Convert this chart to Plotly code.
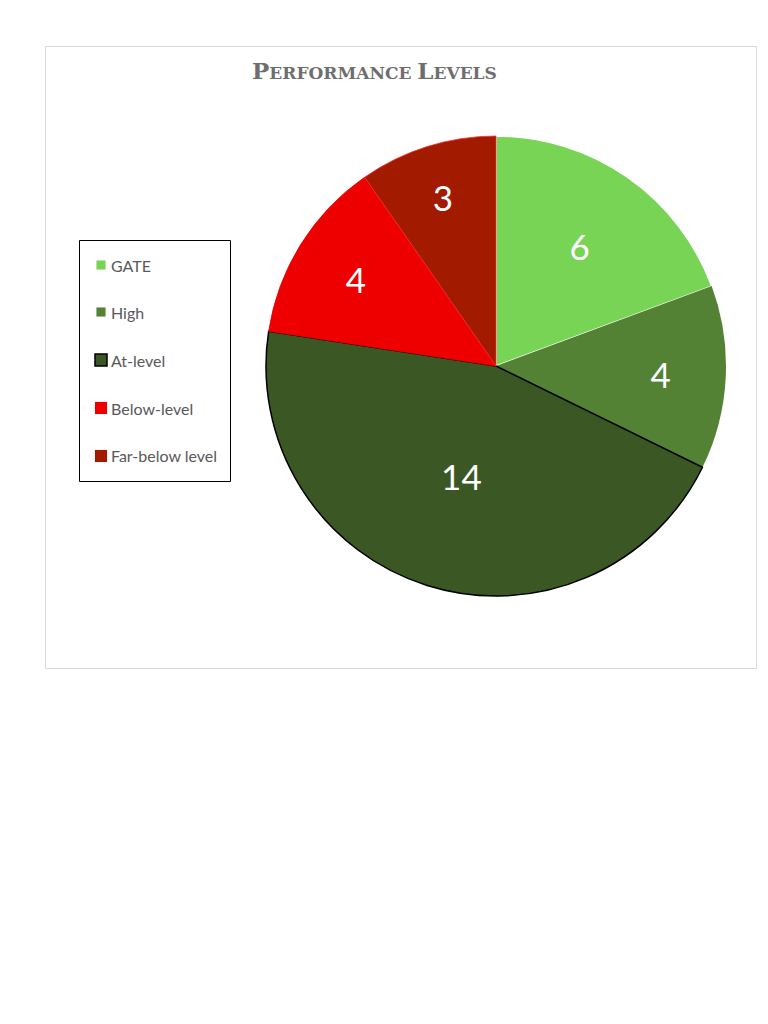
import plotly.graph_objects as go

labels = ["GATE", "High", "At-level", "Below-level", "Far-below level"]
values = [6, 4, 14, 4, 3]
colors = ["#77D455", "#548235", "#3A5724", "#EE0000", "#A21A00"]
border_colors = ["#FFFFFF", "#548235", "#000000", "#EE0000", "#FF2A2A"]
border_widths = [1.5, 0, 1.5, 0.8, 0.8]
title_text = "PERFORMANCE LEVELS"

OFF = 8  # page body margin
W, H = 752, 1000

def px(x):
    return (x - OFF) / W

def py(y):
    return 1 - (y - OFF) / H

cx, cy, r = 496, 366, 230

fig = go.Figure()
fig.add_trace(go.Pie(
    labels=labels,
    values=values,
    sort=False,
    direction="clockwise",
    rotation=0,
    marker=dict(colors=colors, line=dict(color=border_colors, width=border_widths)),
    textinfo="value",
    textposition="inside",
    insidetextorientation="horizontal",
    textfont=dict(family="Lato, Open Sans, sans-serif", size=35, color="white"),
    domain=dict(x=[px(cx - r), px(cx + r)], y=[py(cy + r), py(cy - r)]),
    showlegend=False,
    hoverinfo="label+value",
))

shapes = [
    dict(type="rect", xref="paper", yref="paper",
         x0=px(45.5), x1=px(756.5), y0=py(668.5), y1=py(46.5),
         line=dict(color="#D9D9D9", width=1), layer="below"),
    dict(type="rect", xref="paper", yref="paper",
         x0=px(79.5), x1=px(230.5), y0=py(481.5), y1=py(240.5),
         line=dict(color="#000000", width=1)),
]

annotations = []
legend_y = [265, 312, 360, 408, 456]
marker_size = [9, 9, 12, 12, 12]
marker_line = [0, 0, 1.5, 0, 0]
for lab, col, yy, ms, ml in zip(labels, colors, legend_y, marker_size, marker_line):
    mx = 101
    shapes.append(dict(type="rect", xref="paper", yref="paper",
                       x0=px(mx - ms / 2), x1=px(mx + ms / 2),
                       y0=py(yy + ms / 2), y1=py(yy - ms / 2),
                       fillcolor=col,
                       line=dict(color="#000000" if ml else col, width=ml if ml else 0.1)))
    annotations.append(dict(xref="paper", yref="paper", x=px(109), y=py(yy),
                            xanchor="left", yanchor="middle", showarrow=False,
                            text=lab,
                            font=dict(family="Lato, Open Sans, sans-serif", size=16, color="#595959")))

words = title_text.split(" ")
parts = []
for w in words:
    parts.append("<span style='font-size:23px'>" + w[0] + "</span>" + w[1:])
title_html = "<b>" + " ".join(parts) + "</b>"
annotations.append(dict(xref="paper", yref="paper", x=px(374), y=py(71),
                        xanchor="center", yanchor="middle", showarrow=False,
                        text=title_html,
                        font=dict(family="DejaVu Serif, serif", size=17, color="#6E6E6E")))

fig.update_layout(
    width=W, height=H,
    margin=dict(l=0, r=0, t=0, b=0),
    paper_bgcolor="white",
    plot_bgcolor="white",
    shapes=shapes,
    annotations=annotations,
    showlegend=False,
)

fig.write_html("out.html")
